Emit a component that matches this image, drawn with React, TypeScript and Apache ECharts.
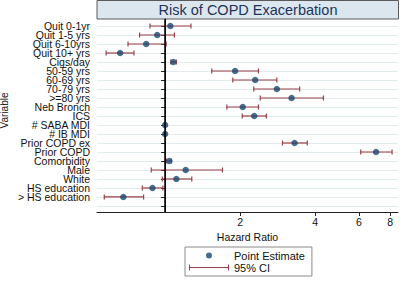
import React, { useEffect, useRef } from "react";
import * as echarts from "echarts";

const categories = [
  "Quit 0-1yr", "Quit 1-5 yrs", "Quit 6-10yrs", "Quit 10+ yrs", "Cigs/day",
  "50-59 yrs", "60-69 yrs", "70-79 yrs", ">=80 yrs", "Neb Bronch", "ICS",
  "# SABA MDI", "# IB MDI", "Prior COPD ex", "Prior COPD", "Comorbidity",
  "Male", "White", "HS education", "> HS education",
];
const estimates = [1.05, 0.93, 0.84, 0.66, 1.08, 1.91, 2.30, 2.81, 3.22, 2.05, 2.28, 1.0, 1.0, 3.31, 7.03, 1.04, 1.21, 1.11, 0.89, 0.68];
const lower = [0.87, 0.79, 0.71, 0.58, 1.055, 1.54, 1.87, 2.27, 2.41, 1.77, 2.04, 0.995, 0.995, 2.96, 6.1, 1.015, 0.88, 0.975, 0.81, 0.57];
const upper = [1.27, 1.09, 1.01, 0.75, 1.11, 2.37, 2.81, 3.47, 4.32, 2.37, 2.55, 1.005, 1.005, 3.72, 8.15, 1.06, 1.7, 1.28, 0.98, 0.82];
const xTicks = [2, 4, 6, 8];
const referenceValue = 1;
const xMin = 0.533;
const xMax = 8.61;

const FONT = "Liberation Sans, Arial, Helvetica, sans-serif";
const NAVY = "#1a476f";
const MAROON = "#9c3f46";

// log2 scale helper used to build the axis' values
const lg = (v: number) => Math.log2(v);

export default function App() {
  const ref = useRef<HTMLDivElement>(null);
  useEffect(() => {
    if (!ref.current) return;
    const chart = echarts.init(ref.current, null, { renderer: "svg" });
    const rows = categories.map((_, i) => i + 1);
    const oddRows = rows.filter((r) => r % 2 === 1);
    const evenRows = rows.filter((r) => r % 2 === 0);
    const tickPos = xTicks.map(lg);
    const yLabel = (custom: number[]) => ({
      customValues: custom,
      showMinLabel: true,
      showMaxLabel: true,
      margin: 7,
      fontFamily: FONT,
      fontSize: 10.5,
      lineHeight: 9,
      color: "#111",
      formatter: (v: number) => categories[Math.round(v) - 1] ?? "",
    });
    const yBase = {
      type: "value",
      inverse: true,
      min: 0.22,
      max: 21.67,
      position: "left",
      offset: 0,
    };
    const option: any = {
      animation: false,
      backgroundColor: "#ffffff",
      textStyle: { fontFamily: FONT },
      title: {
        text: "Risk of COPD Exacerbation",
        left: 248,
        textAlign: "center",
        top: 2,
        padding: 0,
        textStyle: { fontFamily: FONT, fontSize: 14.5, fontWeight: "normal", color: "#1c3458" },
      },
      graphic: [
        {
          type: "rect",
          shape: { x: 97, y: 0.5, width: 301.5, height: 18.5 },
          style: { fill: "#dce6ee", stroke: "#5a5a5a", lineWidth: 1 },
          z: 0,
        },
      ],
      grid: { left: 97, right: 2, top: 19, bottom: 71, containLabel: false, outerBoundsMode: "none" },
      legend: {
        orient: "vertical",
        left: 185,
        top: 247,
        itemWidth: 40,
        itemHeight: 10,
        itemGap: 1,
        padding: [3, 7, 3, 4],
        borderColor: "#8a8a8a",
        borderWidth: 1,
        backgroundColor: "#ffffff",
        textStyle: { fontFamily: FONT, fontSize: 11, color: "#111" },
        data: [
          {
            name: "Point Estimate",
            icon: "path://M0,0h0.01v0.01h-0.01z M39.99,9.99h0.01v0.01h-0.01z M17,5a3,3 0 1,0 6,0a3,3 0 1,0 -6,0z",
          },
          { name: "95% CI", icon: "path://M0,2h1v6h-1z M0,4.4h40v1.2h-40z M39,2h1v6h-1z M0,0h0.01v0.01h-0.01z M39.99,9.99h0.01v0.01h-0.01z" },
        ],
      },
      xAxis: {
        type: "value",
        min: lg(xMin),
        max: lg(xMax),
        name: "Hazard Ratio",
        nameLocation: "middle",
        nameGap: 11,
        nameTextStyle: { fontFamily: FONT, fontSize: 10.5, color: "#111" },
        axisLine: { show: true, lineStyle: { color: "#222", width: 1 } },
        axisTick: { show: true, length: 4, customValues: tickPos, lineStyle: { color: "#222" } },
        axisLabel: {
          customValues: tickPos,
          margin: 4,
          fontFamily: FONT,
          fontSize: 10.5,
          color: "#111",
          formatter: (v: number) => String(Math.round(Math.pow(2, v))),
        },
        splitLine: { show: false },
      },
      yAxis: [
        {
          ...yBase,
          name: "Variable",
          nameLocation: "middle",
          nameRotate: 90,
          nameGap: 88,
          nameTextStyle: { fontFamily: FONT, fontSize: 10, color: "#111", padding: [0, 0, 0, 10] },
          axisLine: { show: true, lineStyle: { color: "#222", width: 1 } },
          axisTick: { show: true, length: 4, customValues: [...rows, categories.length + 1], lineStyle: { color: "#222" } },
          axisLabel: yLabel(oddRows),
          splitLine: { show: true, lineStyle: { color: "#e2ecef", width: 1 } },
        },
        {
          ...yBase,
          axisLine: { show: false },
          axisTick: { show: false },
          axisLabel: yLabel(evenRows),
          splitLine: { show: false },
        },
      ],
      series: [
        {
          name: "95% CI",
          type: "custom",
          yAxisIndex: 0,
          itemStyle: { color: MAROON },
          encode: { x: [0, 1], y: 2 },
          data: categories.map((_, i) => [lg(lower[i]), lg(upper[i]), i + 1]),
          renderItem: (params: any, api: any) => {
            const lo = api.coord([api.value(0), api.value(2)]);
            const hi = api.coord([api.value(1), api.value(2)]);
            const h = 2.5;
            const st = { stroke: MAROON, lineWidth: 1.2 };
            return {
              type: "group",
              children: [
                { type: "line", shape: { x1: lo[0], y1: lo[1], x2: hi[0], y2: hi[1] }, style: st },
                { type: "line", shape: { x1: lo[0], y1: lo[1] - h, x2: lo[0], y2: lo[1] + h }, style: st },
                { type: "line", shape: { x1: hi[0], y1: hi[1] - h, x2: hi[0], y2: hi[1] + h }, style: st },
              ],
            };
          },
          z: 2,
        },
        {
          name: "Point Estimate",
          type: "scatter",
          yAxisIndex: 0,
          symbol: "circle",
          symbolSize: 6.5,
          itemStyle: { color: NAVY },
          data: categories.map((_, i) => [lg(estimates[i]), i + 1]),
          z: 3,
          markLine: {
            silent: true,
            symbol: "none",
            label: { show: false },
            lineStyle: { color: "#000", width: 1.5, type: "solid" },
            data: [{ xAxis: lg(referenceValue) }],
            z: 4,
          },
        },
      ],
    };
    chart.setOption(option);
    return () => chart.dispose();
  }, []);
  return <div ref={ref} style={{ width: 400, height: 283, position: "absolute", left: 0, top: 0 }} />;
}
